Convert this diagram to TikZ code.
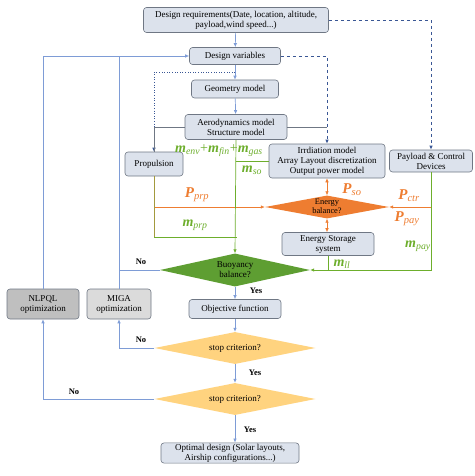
\documentclass[tikz,border=0pt]{standalone}
\usepackage{fontspec}
\setmainfont{Liberation Serif}
\usetikzlibrary{shapes.geometric,arrows.meta}

\definecolor{boxfill}{HTML}{DCE2EC}
\definecolor{boxline}{HTML}{6F7784}
\definecolor{flowblue}{HTML}{7E9CD6}
\definecolor{dashblue}{HTML}{3A5795}
\definecolor{enorange}{HTML}{EE7D31}
\definecolor{bugreen}{HTML}{5E9E32}
\definecolor{lblgreen}{HTML}{6DAE2C}
\definecolor{stopyellow}{HTML}{FFD37F}
\definecolor{olive}{HTML}{A39A3E}

\newcommand{\mlbl}[2]{\textbf{\textit{#1}}\textsubscript{\textit{#2}}}

\tikzset{
  stepbox/.style={draw=boxline, line width=0.6pt, fill=boxfill, rounded corners=3pt, align=center,
    inner sep=1pt, font=\fontsize{9}{10}\selectfont},
  optbox/.style={stepbox, fill=#1},
  decide/.style={diamond, fill=#1, inner sep=0pt, align=center,
    font=\fontsize{9}{10}\selectfont},
  flow/.style={draw=flowblue, line width=0.7pt, -{Latex[length=4pt,width=3.5pt]}},
  flowline/.style={draw=flowblue, line width=0.7pt},
  dashflow/.style={draw=dashblue, dashed, line width=0.8pt, -{Latex[length=4pt,width=3.5pt]}},
  dotflow/.style={draw=dashblue, dotted, line width=0.6pt, -{Latex[length=4pt,width=3.5pt]}},
  power/.style={draw=enorange, line width=0.6pt, -{Latex[length=4pt,width=3.5pt]}},
  mass/.style={draw=lblgreen, line width=0.7pt},
  yesno/.style={font=\bfseries\fontsize{8.5}{9}\selectfont},
  plbl/.style={text=enorange, font=\fontsize{15}{15}\selectfont},
  mlbl/.style={text=lblgreen, font=\fontsize{14}{14}\selectfont}
}

\begin{document}
\begin{tikzpicture}[x=1pt,y=-1pt]
  \useasboundingbox (0,0) rectangle (474,476);

  % boxes
  \node[stepbox, minimum width=185, minimum height=25] (req) at (236,20)
    {Design requirements(Date, location, altitude,\\payload,wind speed...)};
  \node[stepbox, minimum width=91, minimum height=17] (dv) at (235,56) {Design variables};
  \node[stepbox, minimum width=87, minimum height=18] (geo) at (235,89) {Geometry model};
  \node[stepbox, minimum width=102, minimum height=25] (aero) at (236,127)
    {Aerodynamics model\\Structure model};
  \node[stepbox, minimum width=58, minimum height=24] (prop) at (154,164) {Propulsion};
  \node[stepbox, minimum width=116, minimum height=34] (irr) at (327,161)
    {Irrdiation model\\Array Layout discretization\\Output power model};
  \node[stepbox, minimum width=83, minimum height=22] (pay) at (431,161)
    {Payload \& Control\\Devices};
  \node[stepbox, minimum width=92, minimum height=23] (es) at (328,244)
    {Energy Storage\\system};
  \node[stepbox, minimum width=92, minimum height=19] (obj) at (235,309) {Objective function};
  \node[stepbox, minimum width=138, minimum height=20] (opt) at (230,453)
    {Optimal design (Solar layouts,\\Airship configurations...)};
  \node[optbox=gray!50, minimum width=72, minimum height=30] (nlp) at (43,304)
    {NLPQL\\optimization};
  \node[optbox=gray!28, minimum width=64, minimum height=30] (miga) at (119,304)
    {MIGA\\optimization};

  % decisions
  \node[decide=enorange, minimum width=124, minimum height=23,
    label=center:{\fontsize{8.4}{8.8}\selectfont\begin{tabular}{@{}c@{}}Energy\\balance?\end{tabular}}]
    (eb) at (327,207) {};
  \node[decide=bugreen, minimum width=150, minimum height=33,
    label=center:{\fontsize{9}{10}\selectfont\begin{tabular}{@{}c@{}}Buoyancy\\balance?\end{tabular}}]
    (bb) at (235,270) {};
  \node[decide=stopyellow, minimum width=161, minimum height=32,
    label=center:{\fontsize{9}{10}\selectfont stop criterion?}] (sc1) at (235,348) {};
  \node[decide=stopyellow, minimum width=161, minimum height=32,
    label=center:{\fontsize{9}{10}\selectfont stop criterion?}] (sc2) at (235,399) {};

  % main flow
  \draw[flow] (req) -- (dv);
  \draw[flow] (dv) -- (geo);
  \draw[flow] (geo) -- (aero);
  \draw[flow] (bb) -- (obj);
  \draw[flow] (obj) -- (sc1);
  \draw[flow] (sc1) -- (sc2);
  \draw[flow] (sc2) -- (opt.north -| sc2.south);
  \node[yesno] (yes1) at (256,291) {Yes};
  \node[yesno] (yes2) at (255,373) {Yes};
  \node[yesno] (yes3) at (250,430) {Yes};

  % optimizer loops
  \coordinate (loopn) at (nlp.north |- dv.west);
  \draw[flow] (nlp.north) -- (loopn) -- (dv.west);
  \draw[flowline] (miga.north) -- (miga.north |- dv.west);
  \draw[flow] (sc1.west) -| (miga.south);
  \draw[flow] (sc2.west) -| (nlp.south);
  \draw[flowline] (bb.west) -- (bb.west -| miga.north);
  \node[yesno] (no1) at (141,262) {No};
  \node[yesno] (no2) at (141,340) {No};
  \node[yesno] (no3) at (74,392) {No};

  % design variables to sub-models
  \draw[dashflow] (req.east) -| (pay.north);
  \draw[dashflow] (dv.east) -| (irr.north);
  \draw[dotflow] (235,72) -| (prop.north);
  \draw[draw=boxline, line width=0.4pt] (aero.west) -| (prop.north);
  \draw[draw=boxline, line width=0.4pt] (aero.east) -- (aero.east -| irr.north);

  % energy flows
  \draw[power] (prop.south |- eb.west) -- (eb.west);
  \draw[power] (pay.south |- eb.east) -- (eb.east);
  \draw[power, {Latex[length=4pt,width=3.5pt]}-{Latex[length=4pt,width=3.5pt]}] (eb.north) -- (irr.south -| eb.north);
  \draw[power, {Latex[length=4pt,width=3.5pt]}-{Latex[length=4pt,width=3.5pt]}] (eb.south) -- (es.north -| eb.south);
  \node[plbl] (pprp) at (197,195) {\mlbl{P}{prp}};
  \node[plbl] (pso) at (352,190) {\mlbl{P}{so}};
  \node[plbl] (pctr) at (409,196) {\mlbl{P}{ctr}};
  \node[plbl] (ppay) at (407,219) {\mlbl{P}{pay}};

  % mass flows
  \draw[mass, -{Latex[length=4pt,width=3.5pt]}] (aero.south) -- (bb.north);
  \draw[mass] (irr.west) -- (irr.west -| aero.south);
  \draw[draw=olive, line width=0.7pt] (prop.south) -- (154,237);
  \draw[mass] (154,237) -- (237,237);
  \draw[mass, -{Latex[length=4pt,width=3.5pt]}] (pay.south) |- (bb.east);
  \draw[mass] (es.south) -- (es.south |- bb.east);
  \node[mlbl] (menv) at (219,151) {\mlbl{m}{env}+\mlbl{m}{fin}+\mlbl{m}{gas}};
  \node[mlbl] (mso) at (252,170) {\mlbl{m}{so}};
  \node[mlbl] (mprp) at (195,225) {\mlbl{m}{prp}};
  \node[mlbl] (mpay) at (418,246) {\mlbl{m}{pay}};
  \node[mlbl] (mll) at (342,264) {\mlbl{m}{ll}};
\end{tikzpicture}
\end{document}
